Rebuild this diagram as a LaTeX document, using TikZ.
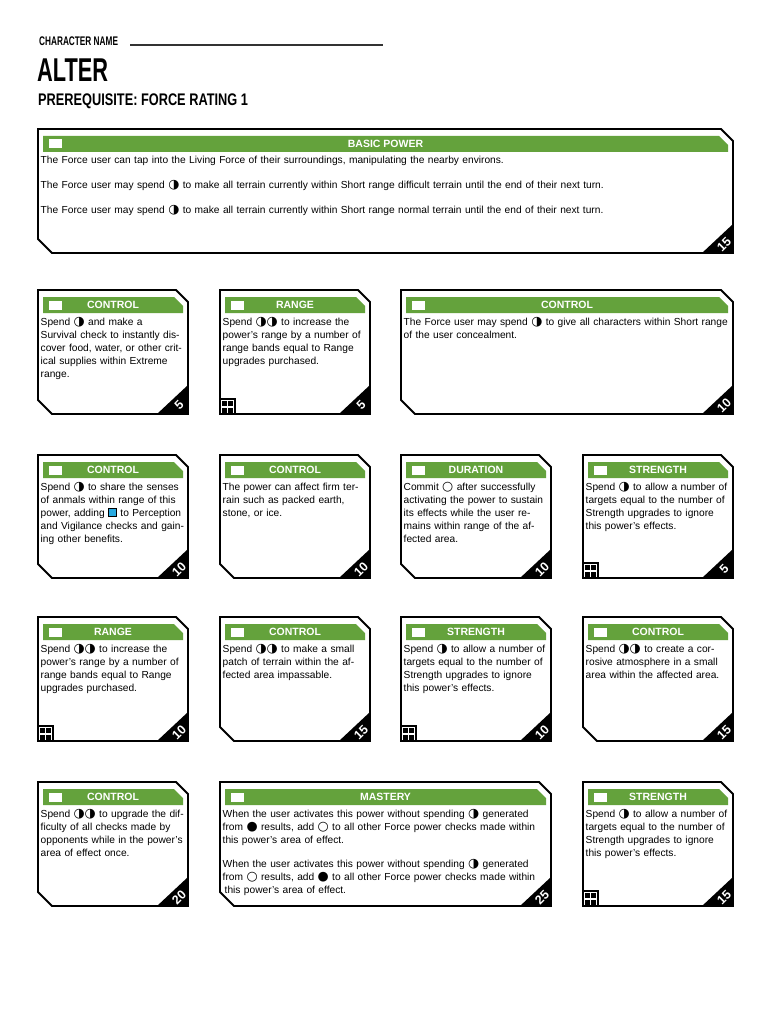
\documentclass[tikz,border=0pt]{standalone}
\usepackage{fontspec}
\setmainfont{Liberation Sans}
\newfontfamily\symfont[Scale=1.25]{DejaVu Sans}
\newfontfamily\hdfontA[FakeStretch=0.66]{Liberation Sans}
\newfontfamily\hdfontB[FakeStretch=0.76]{Liberation Sans}
\definecolor{hdrgreen}{RGB}{100,162,60}
\definecolor{conngray}{RGB}{168,168,168}
\definecolor{boostblue}{RGB}{40,170,225}
\pgfdeclarelayer{bg}
\pgfsetlayers{bg,main}
\newcommand{\fhalf}{{\symfont ◑}}
\newcommand{\fwhite}{{\symfont ○}}
\newcommand{\fblack}{{\symfont ●}}
\newcommand{\boostdie}{{\fboxsep=0pt\fboxrule=0.7pt\fcolorbox{black}{boostblue}{\rule{0pt}{7.5pt}\hspace{7.5pt}}}}
\tikzset{
  outline/.style={draw=black, line width=1.9pt, fill=white, line join=miter},
  boxarea/.style={draw=none, inner sep=0pt, rectangle},
  titletext/.style={text=white, font=\fontsize{10.5}{11}\selectfont\bfseries, inner sep=0pt},
  bodytext/.style={anchor=base west, inner sep=0pt, align=left, font=\fontsize{10.2}{13}\selectfont},
  costtext/.style={text=white, font=\fontsize{12.5}{12.5}\selectfont\bfseries, inner sep=0pt, rotate=45},
  conn/.style={draw=conngray, line width=9pt},
  notch/.style={draw=black, line width=1.2pt},
}
% #1 name, #2 x0, #3 y0, #4 x1, #5 y1, #6 title, #7 cost, #8 quad flag, #9 body
\newcommand{\pwrbox}[9]{%
  \ifnum#8=0
    \draw[outline] (#2,#3) -- ({#4-12},#3) -- (#4,{#3+12}) -- (#4,#5) -- ({#2+14},#5) -- (#2,{#5-14}) -- cycle;
  \else
    \draw[outline] (#2,#3) -- ({#4-12},#3) -- (#4,{#3+12}) -- (#4,#5) -- (#2,#5) -- cycle;
    \draw[notch] (#2,{#5-15}) -- ({#2+15},{#5-15}) -- ({#2+15},#5);
    \fill ({#2+1.5},{#5-13}) rectangle ({#2+6.5},{#5-8});
    \fill ({#2+8},{#5-13}) rectangle ({#2+13},{#5-8});
    \fill ({#2+1.5},{#5-6.5}) rectangle ({#2+6.5},{#5-1.5});
    \fill ({#2+8},{#5-6.5}) rectangle ({#2+13},{#5-1.5});
  \fi
  \node[boxarea, minimum width={#4-#2}, minimum height={#5-#3}] (#1) at ({(#2+#4)/2},{(#3+#5)/2}) {};
  \fill[hdrgreen] ({#2+5},{#3+7}) -- ({#4-14},{#3+7}) -- ({#4-5},{#3+16}) -- ({#4-5},{#3+23}) -- ({#2+5},{#3+23}) -- cycle;
  \fill[white] ({#2+11},{#3+10.5}) rectangle ({#2+24},{#3+19.5});
  \node[titletext] (#1-title) at ({(#2+#4)/2},{#3+15}) {#6};
  \fill[black] ({#4-31},#5) -- (#4,#5) -- (#4,{#5-29}) -- cycle;
  \node[costtext] (#1-cost) at ({#4-9},{#5-8.5}) {#7};
  \node[bodytext, text width={#4-#2-3.5}] (#1-text) at ({#2+2.5},{#3+35}) {#9};
}
\begin{document}
\begin{tikzpicture}[x=1pt,y=-1pt]
\useasboundingbox (0,0) rectangle (768,1024);
\fill[white] (0,0) rectangle (768,1024);

% header
\node[anchor=base west, inner sep=0pt, font=\hdfontA\bfseries\fontsize{12.5}{13}\selectfont] (charname) at (39,46) {CHARACTER NAME};
\draw[line width=1.5pt, black!80] (130,45) -- (383,45);
\node[anchor=base west, inner sep=0pt, font=\hdfontA\bfseries\fontsize{33}{34}\selectfont] (powername) at (37,82) {ALTER};
\node[anchor=base west, inner sep=0pt, font=\hdfontB\bfseries\fontsize{16.8}{17}\selectfont] (prereq) at (38,106) {PREREQUISITE: FORCE RATING 1};

% basic power
\pwrbox{basic}{38}{129}{733}{253}{BASIC POWER}{15}{0}{The Force user can tap into the Living Force of their surroundings, manipulating the nearby environs.\\[12pt]
The Force user may spend \fhalf\ to make all terrain currently within Short range difficult terrain until the end of their next turn.\\[12pt]
The Force user may spend \fhalf\ to make all terrain currently within Short range normal terrain until the end of their next turn.}

% row 2
\pwrbox{b21}{38}{290}{188}{414}{CONTROL}{5}{0}{Spend \fhalf\ and make a\\Survival check to instantly dis-\\cover food, water, or other crit-\\ical supplies within Extreme\\range.}
\pwrbox{b22}{220}{290}{370}{414}{RANGE}{5}{1}{Spend \fhalf\fhalf\ to increase the\\power’s range by a number of\\range bands equal to Range\\upgrades purchased.}
\pwrbox{b23}{401}{290}{733}{414}{CONTROL}{10}{0}{The Force user may spend \fhalf\ to give all characters within Short range\\of the user concealment.}

% row 3
\pwrbox{b31}{38}{455}{188}{578}{CONTROL}{10}{0}{Spend \fhalf\ to share the senses\\of anmals within range of this\\power, adding \boostdie\ to Perception\\and Vigilance checks and gain-\\ing other benefits.}
\pwrbox{b32}{220}{455}{370}{578}{CONTROL}{10}{0}{The power can affect firm ter-\\rain such as packed earth,\\stone, or ice.}
\pwrbox{b33}{401}{455}{551}{578}{DURATION}{10}{0}{Commit \fwhite\ after successfully\\activating the power to sustain\\its effects while the user re-\\mains within range of the af-\\fected area.}
\pwrbox{b34}{583}{455}{733}{578}{STRENGTH}{5}{1}{Spend \fhalf\ to allow a number of\\targets equal to the number of\\Strength upgrades to ignore\\this power’s effects.}

% row 4
\pwrbox{b41}{38}{617}{188}{741}{RANGE}{10}{1}{Spend \fhalf\fhalf\ to increase the\\power’s range by a number of\\range bands equal to Range\\upgrades purchased.}
\pwrbox{b42}{220}{617}{370}{741}{CONTROL}{15}{0}{Spend \fhalf\fhalf\ to make a small\\patch of terrain within the af-\\fected area impassable.}
\pwrbox{b43}{401}{617}{551}{741}{STRENGTH}{10}{1}{Spend \fhalf\ to allow a number of\\targets equal to the number of\\Strength upgrades to ignore\\this power’s effects.}
\pwrbox{b44}{583}{617}{733}{741}{CONTROL}{15}{0}{Spend \fhalf\fhalf\ to create a cor-\\rosive atmosphere in a small\\area within the affected area.}

% row 5
\pwrbox{b51}{38}{782}{188}{906}{CONTROL}{20}{0}{Spend \fhalf\fhalf\ to upgrade the dif-\\ficulty of all checks made by\\opponents while in the power’s\\area of effect once.}
\pwrbox{mastery}{220}{782}{551}{906}{MASTERY}{25}{0}{When the user activates this power without spending \fhalf\ generated\\from \fblack\ results, add \fwhite\ to all other Force power checks made within\\this power’s area of effect.\\[11pt]
When the user activates this power without spending \fhalf\ generated\\from \fwhite\ results, add \fblack\ to all other Force power checks made within\\\hspace*{2pt}this power’s area of effect.}
\pwrbox{b54}{583}{782}{733}{906}{STRENGTH}{15}{1}{Spend \fhalf\ to allow a number of\\targets equal to the number of\\Strength upgrades to ignore\\this power’s effects.}

% connectors
\begin{pgfonlayer}{bg}
\draw[conn] (basic.south -| b21.north) -- (b21.north);
\draw[conn] (basic.south -| b22.north) -- (b22.north);
\draw[conn] (basic.south -| b23.north) -- (b23.north);
\draw[conn] (b21.south) -- (b31.north);
\draw[conn] (b22.south) -- (b32.north);
\draw[conn] (b23.south -| b33.north) -- (b33.north);
\draw[conn] (b23.south -| b34.north) -- (b34.north);
\draw[conn] (b31.south) -- (b41.north);
\draw[conn] (b32.south) -- (b42.north);
\draw[conn] (b33.south) -- (b43.north);
\draw[conn] (b34.south) -- (b44.north);
\draw[conn] (b41.south) -- (b51.north);
\draw[conn] (b42.south) -- (b42.south |- mastery.north);
\draw[conn] (b43.south) -- (b43.south |- mastery.north);
\draw[conn] (b44.south) -- (b54.north);
\draw[conn] (b41.east) -- (b42.west);
\draw[conn] (mastery.east) -- (b54.west);
\end{pgfonlayer}
\end{tikzpicture}
\end{document}
